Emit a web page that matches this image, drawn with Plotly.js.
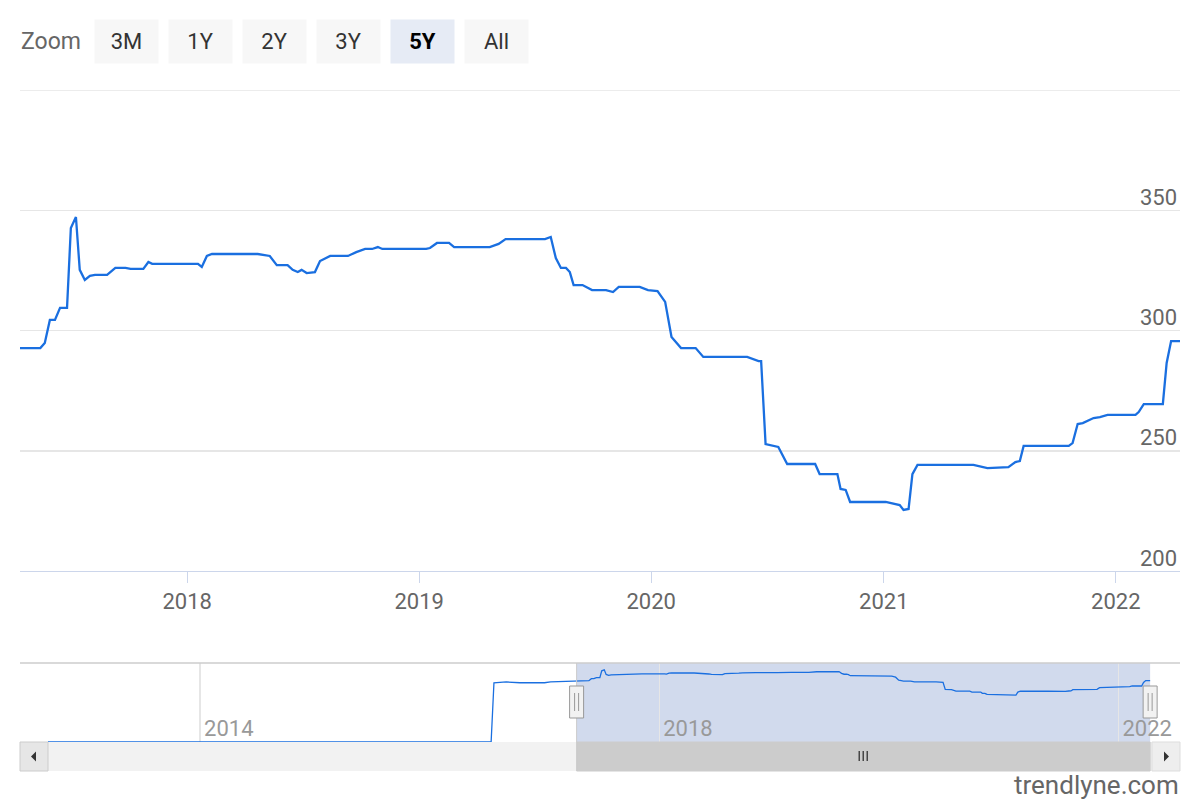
<!DOCTYPE html>
<html>
<head>
<meta charset="utf-8">
<script src="https://cdn.plot.ly/plotly-3.0.1.min.js"></script>
<style>
html,body{margin:0;padding:0;background:#fff;}
#chart{width:1200px;height:800px;}
</style>
</head>
<body>
<div id="chart"></div>
<script>
// ---- data ----
const dates = [
'2012-09-04','2016-07-15','2016-07-24','2016-09-01','2016-10-15','2017-01-01','2017-01-20',
'2017-04-13','2017-05-15','2017-05-22','2017-05-30','2017-06-07','2017-06-15','2017-06-26','2017-07-02','2017-07-10','2017-07-16',
'2017-07-24','2017-08-01','2017-08-09','2017-08-28','2017-09-10','2017-09-26','2017-10-04','2017-10-24','2017-11-01','2017-11-07',
'2018-01-18','2018-01-24','2018-02-01','2018-02-09','2018-04-22','2018-05-11','2018-05-22','2018-06-08','2018-06-16','2018-06-24',
'2018-06-30','2018-07-08','2018-07-21','2018-07-29','2018-08-14','2018-09-11','2018-09-24','2018-10-08','2018-10-19','2018-10-28',
'2018-11-04','2019-01-12','2019-01-18','2019-01-29','2019-02-17','2019-02-25','2019-04-22','2019-05-06','2019-05-17','2019-07-18',
'2019-07-27','2019-08-04','2019-08-12','2019-08-20','2019-08-26','2019-09-01','2019-09-15','2019-09-30','2019-10-22','2019-11-02',
'2019-11-11','2019-12-14','2019-12-27','2020-01-11','2020-01-23','2020-02-02','2020-02-10','2020-02-17','2020-03-11','2020-03-23',
'2020-05-31','2020-06-18','2020-06-22','2020-06-29','2020-07-19','2020-08-02','2020-09-15','2020-09-22','2020-10-20','2020-10-25',
'2020-11-02','2020-11-09','2021-01-04','2021-01-15','2021-01-26','2021-02-01','2021-02-09','2021-02-15','2021-02-23','2021-05-22',
'2021-06-13','2021-07-16','2021-07-27','2021-08-03','2021-08-09','2021-10-19','2021-10-25','2021-11-02','2021-11-10','2021-11-27',
'2021-12-07','2021-12-19','2022-02-01','2022-02-06','2022-02-14','2022-03-16','2022-03-22','2022-03-29','2022-04-12'
];
const values = [
0,0,285,289,285,285,289,
292.7,292.7,294.8,304.4,304.4,309.4,309.4,342.6,347.2,325.2,
321.0,322.7,323.1,323.1,326.0,326.0,325.6,325.6,328.5,327.7,
327.7,326.4,331.0,331.8,331.8,331.0,327.2,327.2,325.2,324.3,
325.2,323.9,324.3,328.9,331.0,331.0,332.6,333.9,333.9,334.7,
333.9,333.9,334.3,336.4,336.4,334.7,334.7,336.0,338.0,338.0,
338.9,330.1,326.0,326.0,324.3,318.9,318.9,316.8,316.8,316.0,
318.1,318.1,316.8,316.4,311.9,297.3,294.8,292.7,292.7,289.0,
289.0,287.3,287.3,252.8,251.6,244.5,244.5,240.3,240.3,234.1,
233.7,228.7,228.7,227.9,227.4,225.4,225.8,240.3,244.1,244.1,
242.8,243.2,245.3,245.7,252.0,252.0,253.2,261.1,261.5,263.6,
264.0,264.9,264.9,266.1,269.4,269.4,286.5,295.6,295.6
];
const yTickVals = [200, 250, 300, 350, 400];
const yTickText = ['200', '250', '300', '350', ''];
const zoomButtons = ['3M', '1Y', '2Y', '3Y', '5Y', 'All'];
const activeButton = '5Y';
const viewStart = '2017-04-13';
const viewEnd = '2022-04-12';

// ---- helpers (pixel -> paper) ----
const W = 1200, H = 800, ML = 20, MR = 20;
const PW = W - ML - MR;
const px = x => (x - ML) / PW;
const py = y => 1 - y / H;

const lineColor = '#1a6fe0';
const font = 'Roboto, "Open Sans", Arial, sans-serif';

// navigator axis: data spans px 48..1150, axis domain extended to 1180 on the right
const t0 = new Date(dates[0]).getTime();
const t1 = new Date(dates[dates.length - 1]).getTime();
const navEnd = new Date(t1 + (t1 - t0) * (1180 - 1150) / (1150 - 48)).toISOString().slice(0, 10);

const traces = [
  {x: dates, y: values, type: 'scatter', mode: 'lines', xaxis: 'x', yaxis: 'y',
   line: {color: lineColor, width: 2.3}, hoverinfo: 'skip'},
  {x: dates, y: values, type: 'scatter', mode: 'lines', xaxis: 'x2', yaxis: 'y2',
   line: {color: lineColor, width: 1.3}, hoverinfo: 'skip'}
];

const mid = new Date((new Date(viewStart).getTime() + new Date(viewEnd).getTime()) / 2).toISOString().slice(0,10);

const shapes = [
  // main top gridline (400)
  {type:'line', xref:'paper', yref:'y', x0:0, x1:1, y0:400, y1:400, line:{color:'#e6e6e6', width:1.5}, layer:'below'},
  // navigator selection shade
  {type:'rect', xref:'x2', yref:'paper', x0:viewStart, x1:viewEnd, y0:py(742), y1:py(663),
   fillcolor:'rgba(102,133,194,0.3)', line:{width:0}, layer:'below'},
  // navigator top outline
  {type:'line', xref:'paper', yref:'paper', x0:0, x1:1, y0:py(663), y1:py(663), line:{color:'#cccccc', width:1.5}},
  // selection left edge outline
  {type:'line', xref:'x2', yref:'paper', x0:viewStart, x1:viewStart, y0:py(742), y1:py(663), line:{color:'#cccccc', width:1}},
  // scrollbar track
  {type:'rect', xref:'paper', yref:'paper', x0:px(20), x1:px(1180), y0:py(771), y1:py(742),
   fillcolor:'#f2f2f2', line:{width:0}},
  // scrollbar thumb
  {type:'rect', xref:'x2', yref:'paper', x0:viewStart, x1:viewEnd, y0:py(771), y1:py(742),
   fillcolor:'#cccccc', line:{color:'#cccccc', width:1}},
  // left button
  {type:'rect', xref:'paper', yref:'paper', x0:px(20), x1:px(48), y0:py(771), y1:py(742),
   fillcolor:'#e6e6e6', line:{color:'#cccccc', width:1}},
  // right button
  {type:'rect', xref:'paper', yref:'paper', x0:px(1152), x1:px(1180), y0:py(771), y1:py(742),
   fillcolor:'#eeeeee', line:{color:'#dddddd', width:1}},
  // arrows
  {type:'path', xref:'paper', yref:'paper', xsizemode:'pixel', ysizemode:'pixel', xanchor:px(34), yanchor:py(756.5),
   path:'M 2,-5 L 2,5 L -3,0 Z', fillcolor:'#333333', line:{width:0}},
  {type:'path', xref:'paper', yref:'paper', xsizemode:'pixel', ysizemode:'pixel', xanchor:px(1166), yanchor:py(756.5),
   path:'M -2,-5 L -2,5 L 3,0 Z', fillcolor:'#333333', line:{width:0}},
];
// thumb grip
[-4, 0, 4].forEach(o => shapes.push({type:'line', xref:'x2', yref:'paper', xsizemode:'pixel', xanchor:mid,
  x0:o, x1:o, y0:py(761), y1:py(751), line:{color:'#333333', width:1.3}}));
// handles
[viewStart, viewEnd].forEach(d => {
  shapes.push({type:'rect', xref:'x2', yref:'paper', xsizemode:'pixel', xanchor:d, x0:-7, x1:7,
    y0:py(718), y1:py(686), fillcolor:'#f2f2f2', line:{color:'#999999', width:1}});
  [-2, 2].forEach(o => shapes.push({type:'line', xref:'x2', yref:'paper', xsizemode:'pixel', xanchor:d,
    x0:o, x1:o, y0:py(711), y1:py(693), line:{color:'#999999', width:1}}));
});

const annotations = [
  {text:'Zoom', xref:'paper', yref:'paper', x:px(19), y:py(42), xanchor:'left', yanchor:'middle',
   showarrow:false, font:{family:font, size:23, color:'#666666'}},
  {text:'trendlyne.com', xref:'paper', yref:'paper', x:px(1181), y:py(785), xanchor:'right', yanchor:'middle',
   showarrow:false, font:{family:font, size:26, color:'#666666'}}
];
zoomButtons.forEach((b, i) => {
  const cx = 126.5 + i * 74;
  const active = b === activeButton;
  annotations.push({text: active ? '<b>' + b + '</b>' : b, xref:'paper', yref:'paper', x:px(cx), y:py(41.5),
    xanchor:'center', yanchor:'middle', showarrow:false, width:63, height:43, borderpad:0,
    bgcolor: active ? '#e6ebf5' : '#f7f7f7',
    font:{family:font, size:22, color: active ? '#000000' : '#333333'}});
});

const layout = {
  width: W, height: H,
  margin: {l: ML, r: MR, t: 0, b: 0},
  paper_bgcolor: '#ffffff', plot_bgcolor: 'rgba(0,0,0,0)',
  showlegend: false,
  font: {family: font, size: 22, color: '#666666'},
  xaxis: {
    domain: [0, 1], anchor: 'y', type: 'date', range: [viewStart, viewEnd],
    tick0: '2018-01-01', dtick: 'M12', tickformat: '%Y',
    showgrid: false, zeroline: false, showline: true, linecolor: '#ccd6eb', linewidth: 1,
    ticks: 'outside', ticklen: 11, tickcolor: '#ccd6eb', tickwidth: 1,
    tickfont: {family: font, size: 22, color: '#666666'}, ticklabelstandoff: 0
  },
  yaxis: {
    domain: [py(571), py(90)], anchor: 'x', range: [200, 400], side: 'right',
    tickmode: 'array', tickvals: yTickVals, ticktext: yTickText,
    showgrid: true, gridcolor: '#e6e6e6', gridwidth: 1.5, zeroline: false, showline: false,
    ticks: '', ticklabelposition: 'inside', ticklabelshift: -13, ticklabelstandoff: 0,
    tickfont: {family: font, size: 22, color: '#666666'}
  },
  xaxis2: {
    domain: [px(48), px(1180)], anchor: 'y2', type: 'date', range: [dates[0], navEnd],
    tick0: '2014-01-01', dtick: 'M48', tickformat: '%Y',
    showgrid: true, gridcolor: '#e6e6e6', gridwidth: 1.5, zeroline: false, showline: false, ticks: '',
    ticklabelposition: 'inside right', ticklabelstandoff: -4, ticklabelshift: 4,
    tickfont: {family: font, size: 22, color: '#999999'}
  },
  yaxis2: {
    domain: [py(742), py(663)], anchor: 'x2', range: [0, 380],
    showgrid: false, zeroline: false, showline: false, showticklabels: false, ticks: ''
  },
  shapes: shapes,
  annotations: annotations
};

Plotly.newPlot('chart', traces, layout, {displayModeBar: false, staticPlot: true});
</script>
</body>
</html>
